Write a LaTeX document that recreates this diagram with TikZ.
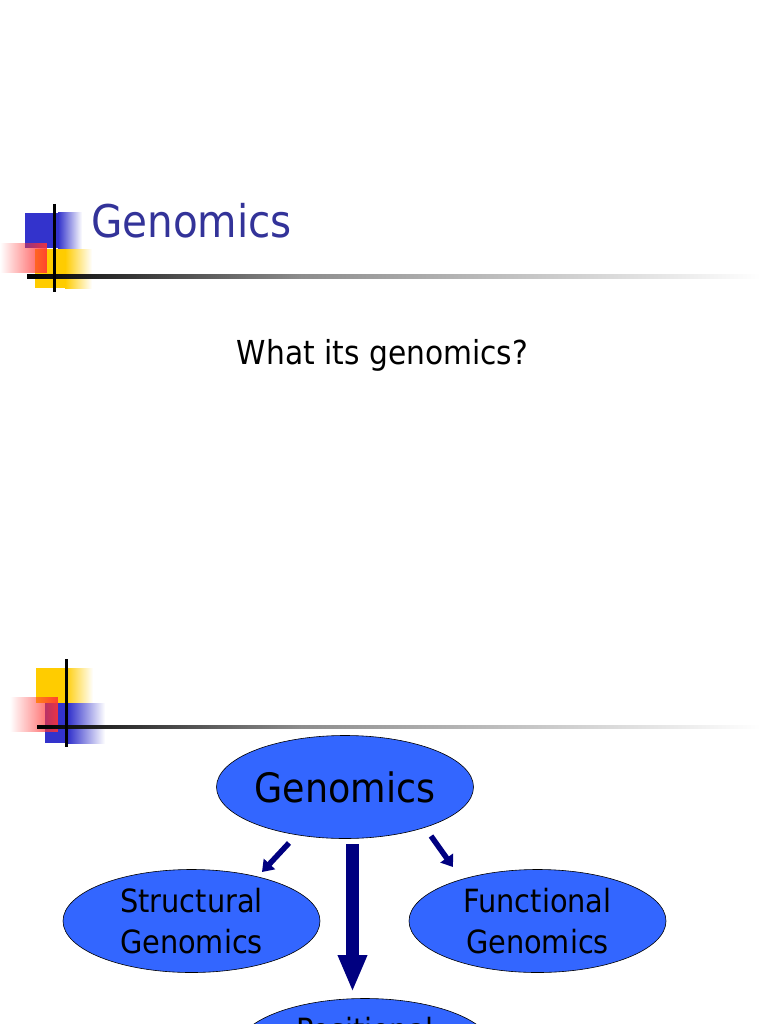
\documentclass[tikz,border=0pt]{standalone}
\usepackage{fontspec}
\setmainfont{DejaVu Sans Condensed}
\usetikzlibrary{shapes.geometric,arrows.meta,fadings}
\definecolor{titleblue}{HTML}{333399}
\definecolor{nodeblue}{HTML}{3366FF}
\definecolor{navyarrow}{HTML}{000080}
\definecolor{decoblue}{HTML}{3333CC}
\definecolor{decoyellow}{HTML}{FFCC00}
\definecolor{decored}{HTML}{FF3333}
\tikzfading[name=redfade, left color=transparent!100, right color=transparent!0]
\tikzset{
  bubble/.style={ellipse, draw=black, line width=0.6pt, fill=nodeblue,
    minimum width=257pt, minimum height=103pt, inner sep=0pt, align=center,
    font=\fontsize{32}{41}\selectfont},
  bigarrow/.style={navyarrow, line width=13pt, -{Triangle[width=27pt,length=37pt]}},
  smallarrow/.style={navyarrow, line width=5.5pt, -{Triangle[width=15pt,length=11pt]}},
  vline/.style={black, line width=3pt},
}
\begin{document}
\begin{tikzpicture}[x=1pt,y=-1pt]
\useasboundingbox (0,0) rectangle (768,1024);
\fill[white] (0,0) rectangle (768,1024);

% ---------- slide 1 decoration ----------
\fill[decoblue] (25,213) rectangle (58,248);
\shade[left color=decoblue, right color=white] (58,213) rectangle (82,248);
\fill[decoyellow] (35,249) rectangle (65,288);
\shade[left color=decoyellow, right color=white] (65,249) rectangle (92,288);
\fill[decored, path fading=redfade, fill opacity=0.9] (0,243) rectangle (47,273);
\shade[left color=black, right color=black!45] (27,274) rectangle (300,278);
\shade[left color=black!45, right color=white] (300,274) rectangle (760,278);
\draw[vline] (54,204) -- (54,292);

\node[anchor=base west, inner sep=0pt, text=titleblue, font=\fontsize{45}{52}\selectfont] (title1) at (91,237) {Genomics};
\node[anchor=base, inner sep=0pt, font=\fontsize{33}{40}\selectfont] (question) at (382.5,364) {What its genomics?};

% ---------- slide 2 decoration ----------
\fill[decoyellow] (36,668) rectangle (65,703);
\shade[left color=decoyellow, right color=white] (65,668) rectangle (93,703);
\fill[decoblue] (45,703) rectangle (68,743);
\shade[left color=decoblue, right color=white] (68,703) rectangle (105,743);
\fill[decored, path fading=redfade, fill opacity=0.9] (10,697) rectangle (58,732);
\shade[left color=black, right color=black!45] (37,725.5) rectangle (300,728.5);
\shade[left color=black!45, right color=white] (300,725.5) rectangle (760,728.5);
\draw[vline] (66,659) -- (66,747);

% ---------- diagram ----------
\node[bubble, font=\fontsize{40.5}{46}\selectfont] (gen) at (345,787) {Genomics};
\node[bubble] (struct) at (191.5,921) {Structural\\Genomics};
\node[bubble] (func) at (537.5,921) {Functional\\Genomics};
\node[bubble] (pos) at (365,1050) {Positional\\Genomics};

\coordinate (la) at (289,843);
\coordinate (lb) at (262,872);
\coordinate (ra) at (431,836);
\coordinate (rb) at (453,867);
\coordinate (ma) at (352.5,844);
\coordinate (mb) at (352.5,992);
\draw[smallarrow] (la) -- (lb);
\draw[smallarrow] (ra) -- (rb);
\draw[bigarrow] (ma) -- (mb);
\end{tikzpicture}
\end{document}
